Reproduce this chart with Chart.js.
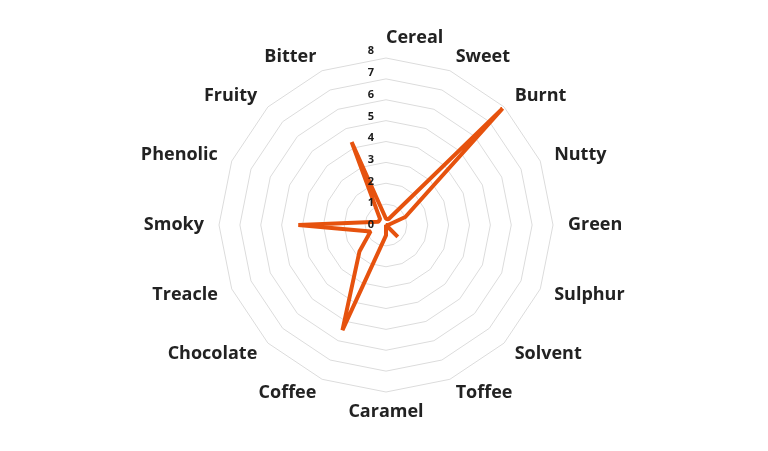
<!DOCTYPE html>
<html>
<head>
<meta charset="utf-8">
<script src="https://cdn.jsdelivr.net/npm/chart.js@4/dist/chart.umd.min.js"></script>
<style>
  html, body { margin: 0; padding: 0; background: #ffffff; }
  #wrap { width: 768px; height: 451px; }
</style>
</head>
<body>
<div id="wrap"><canvas id="c" width="768" height="451"></canvas></div>
<script>
const categories = ["Cereal", "Sweet", "Burnt", "Nutty", "Green", "Sulphur", "Solvent", "Toffee",
  "Caramel", "Coffee", "Chocolate", "Treacle", "Smoky", "Phenolic", "Fruity", "Bitter"];
const scores = [0.3, 0.3, 7.9, 1.0, 0.1, 0, 0.8, 0, 0.5, 5.45, 1.8, 0.8, 4.2, 0.4, 0.4, 4.3];
const tickValues = [0, 1, 2, 3, 4, 5, 6, 7, 8];

const labelFont = 'bold 18px "Open Sans", Lato, sans-serif';
const tickFont = 'bold 11px "Open Sans", Lato, sans-serif';

const customLabels = {
  id: 'customLabels',
  afterDraw(chart) {
    const scale = chart.scales.r;
    const ctx = chart.ctx;
    ctx.save();
    ctx.font = tickFont;
    ctx.fillStyle = '#1a1a1a';
    ctx.textAlign = 'center';
    ctx.textBaseline = 'middle';
    tickValues.forEach(v => {
      const d = scale.getDistanceFromCenterForValue(v) * 1.04;
      ctx.fillText(String(v), scale.xCenter - 15, scale.yCenter - d);
    });
    ctx.font = labelFont;
    ctx.fillStyle = '#222222';
    const n = categories.length;
    categories.forEach((name, i) => {
      const deg = i * 360 / n;
      const pos = scale.getPointPosition(i, scale.drawingArea + 15);
      let align = 'left';
      let dy = 0;
      if (deg === 180) { align = 'center'; dy = 5; }
      else if (deg === 0) { align = 'left'; dy = -5; }
      else if (deg > 180) { align = 'right'; }
      ctx.textAlign = align;
      ctx.textBaseline = 'middle';
      ctx.fillText(name, pos.x, pos.y + dy);
    });
    ctx.restore();
  }
};

new Chart(document.getElementById('c'), {
  type: 'radar',
  data: {
    labels: categories,
    datasets: [{
      data: scores,
      borderColor: '#e6520e',
      backgroundColor: 'rgba(0,0,0,0)',
      borderWidth: 4,
      borderJoinStyle: 'bevel',
      fill: false,
      pointRadius: 0,
      pointHoverRadius: 0,
      tension: 0
    }]
  },
  options: {
    responsive: false,
    animation: false,
    events: [],
    layout: { padding: { top: 58, bottom: 59, left: 5, right: 0 } },
    plugins: { legend: { display: false }, tooltip: { enabled: false } },
    scales: {
      r: {
        min: 0,
        max: 8,
        ticks: { display: false, stepSize: 1 },
        pointLabels: { display: false },
        angleLines: { display: false },
        grid: { color: '#dcdcdc', lineWidth: 1 }
      }
    }
  },
  plugins: [customLabels]
});
</script>
</body>
</html>
